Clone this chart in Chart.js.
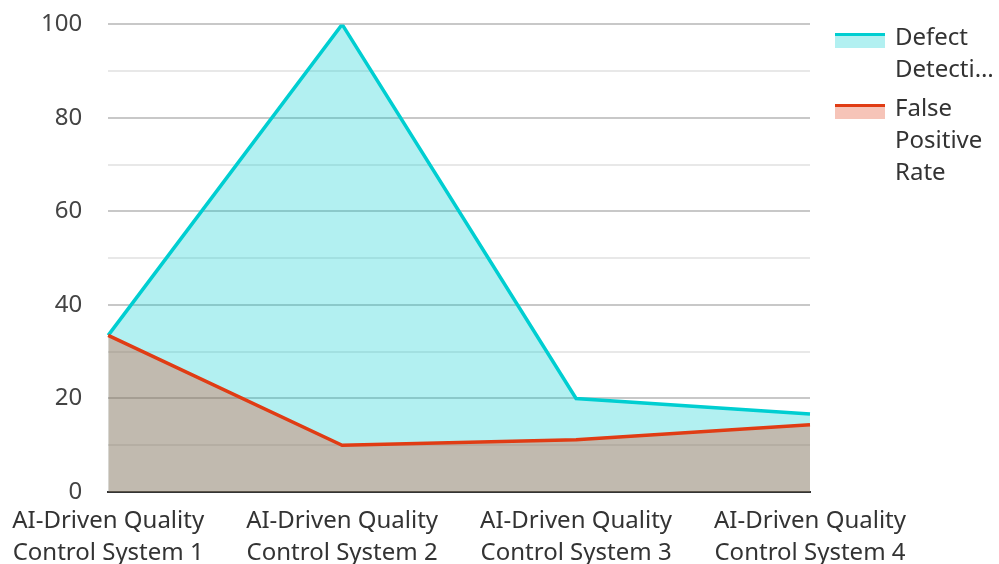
<!DOCTYPE html>
<html>
<head>
<meta charset="utf-8">
<script src="https://cdn.jsdelivr.net/npm/chart.js@4/dist/chart.umd.min.js"></script>
<style>
  html, body { margin: 0; padding: 0; background: #fff; overflow: hidden; }
  #wrap { position: relative; width: 999px; height: 564px; overflow: hidden; }
  #c { position: absolute; left: 0; top: -16px; }
  #legend { position: absolute; left: 835px; top: 20px; font-family: "Noto Sans", sans-serif; font-size: 24px; color: #333; }
  .item { display: flex; align-items: flex-start; margin-bottom: 7px; }
  .swatch { width: 50px; height: 12px; margin-top: 13px; margin-right: 10px; box-sizing: content-box; }
  .text div { line-height: 32px; white-space: nowrap; }
</style>
</head>
<body>
<div id="wrap">
  <canvas id="c" width="999" height="590"></canvas>
  <div id="legend"></div>
</div>
<script>
// Systems compared along the x axis
const categories = [
  ['AI-Driven Quality', 'Control System 1'],
  ['AI-Driven Quality', 'Control System 2'],
  ['AI-Driven Quality', 'Control System 3'],
  ['AI-Driven Quality', 'Control System 4']
];

// Series values (percent)
const defectDetectionRate = [33.5, 100, 20, 16.7];
const falsePositiveRate = [33.5, 10, 11.2, 14.4];

// Series names and the way they wrap in the side legend
const seriesNames = ['Defect Detection Rate', 'False Positive Rate'];
const legendLines = [['Defect', 'Detecti…'], ['False', 'Positive', 'Rate']];

// Y axis tick labels shown every 20
const yTickLabels = [0, 20, 40, 60, 80, 100];

const lineColors = ['#00CED1', '#E03C14'];
const fillColors = ['rgba(0,206,209,0.3)', 'rgba(224,60,20,0.3)'];

const FONT = '"Noto Sans", sans-serif';

new Chart(document.getElementById('c'), {
  type: 'line',
  data: {
    labels: categories,
    datasets: [
      {
        label: seriesNames[0],
        data: defectDetectionRate,
        borderColor: lineColors[0],
        backgroundColor: fillColors[0],
        borderWidth: 3.5,
        fill: 'origin',
        pointRadius: 0,
        tension: 0,
        order: 1
      },
      {
        label: seriesNames[1],
        data: falsePositiveRate,
        borderColor: lineColors[1],
        backgroundColor: fillColors[1],
        borderWidth: 3.5,
        fill: 'origin',
        pointRadius: 0,
        tension: 0,
        order: 0
      }
    ]
  },
  options: {
    responsive: false,
    animation: false,
    layout: { padding: { top: 0, right: 189, bottom: 0, left: 15 } },
    plugins: {
      legend: { display: false },
      tooltip: { enabled: false }
    },
    scales: {
      x: {
        offset: false,
        grid: { display: false },
        border: { display: true, color: '#333', width: 2 },
        ticks: {
          autoSkip: false,
          maxRotation: 0,
          padding: 5,
          color: '#333',
          font: { family: FONT, size: 24, lineHeight: 1.333 }
        }
      },
      y: {
        min: 0,
        max: 100,
        border: { display: false },
        grid: {
          drawTicks: false,
          lineWidth: 2,
          color: (ctx) => (ctx.tick && yTickLabels.includes(ctx.tick.value)) ? '#c8c8c8' : '#e8e8e8'
        },
        ticks: {
          stepSize: 10,
          padding: 26,
          color: '#444',
          font: { family: FONT, size: 24 },
          callback: (v) => yTickLabels.includes(v) ? String(v) : ''
        }
      }
    }
  }
});

// Side legend
const legend = document.getElementById('legend');
seriesNames.forEach((name, i) => {
  const item = document.createElement('div');
  item.className = 'item';
  const sw = document.createElement('div');
  sw.className = 'swatch';
  sw.style.borderTop = '3px solid ' + lineColors[i];
  sw.style.background = fillColors[i];
  const txt = document.createElement('div');
  txt.className = 'text';
  txt.title = name;
  legendLines[i].forEach((l) => {
    const d = document.createElement('div');
    d.textContent = l;
    txt.appendChild(d);
  });
  item.appendChild(sw);
  item.appendChild(txt);
  legend.appendChild(item);
});
</script>
</body>
</html>
